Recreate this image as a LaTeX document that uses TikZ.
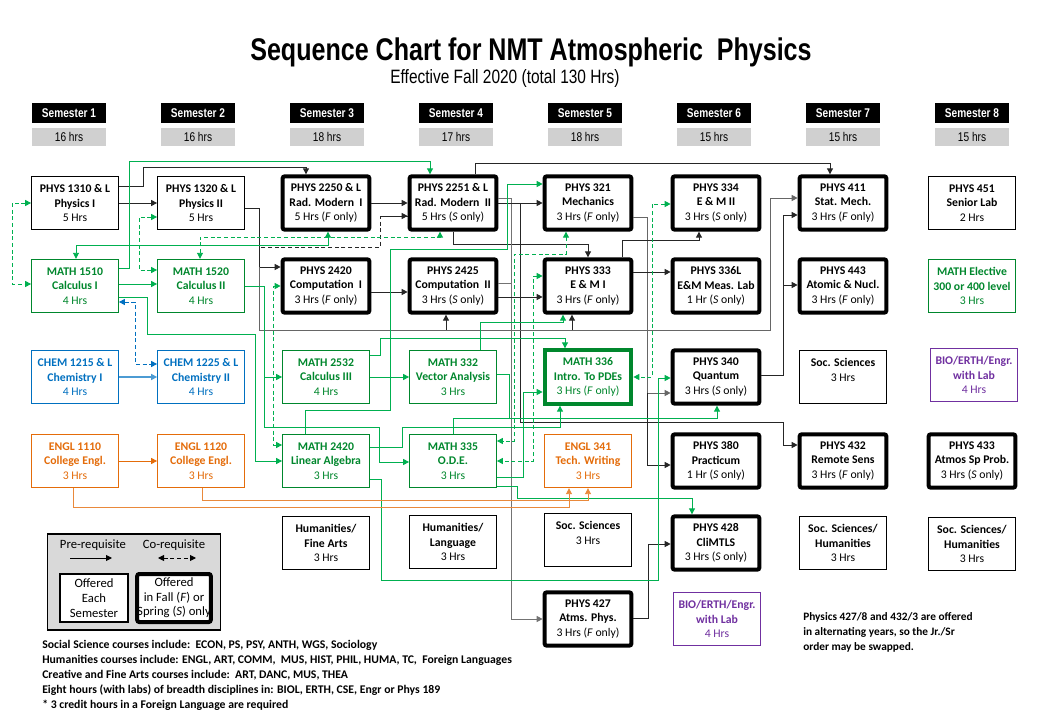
\documentclass[tikz,border=0pt]{standalone}
\usepackage{fontspec}
\setmainfont{Carlito}
\newfontfamily\narrowfont[FakeStretch=0.8]{Liberation Sans}
\usepackage{tikz}
\usetikzlibrary{arrows.meta, positioning}
\definecolor{cgreen}{RGB}{0,135,45}
\definecolor{lgreen}{RGB}{0,176,80}
\definecolor{cblue}{RGB}{0,112,192}
\definecolor{corange}{RGB}{228,108,10}
\definecolor{cpurple}{RGB}{112,48,160}
\definecolor{hdrgray}{RGB}{208,208,208}
\definecolor{leggray}{RGB}{217,217,217}
\tikzstyle{course} = [
    rectangle, draw=black, line width=0.8pt, minimum width=65pt, minimum height=40pt,
    align=center, fill=white, inner sep=1pt, font=\fontsize{8.8}{11}\selectfont
]
\tikzstyle{fs} = [course, line width=3pt, rounded corners=1.5pt]
\tikzstyle{mathc} = [course, draw=cgreen, text=cgreen]
\tikzstyle{chemc} = [course, draw=cblue, text=cblue]
\tikzstyle{englc} = [course, draw=corange, text=corange]
\tikzstyle{bioc} = [course, draw=cpurple, text=cpurple]
\tikzstyle{semhead} = [rectangle, fill=black, text=white, minimum width=56pt, minimum height=15pt,
    inner sep=0pt, font=\narrowfont\bfseries\fontsize{9.5}{10}\selectfont]
\tikzstyle{semhrs} = [rectangle, fill=hdrgray, minimum width=56pt, minimum height=13.5pt,
    inner sep=0pt, font=\narrowfont\fontsize{9.5}{10}\selectfont]
\tikzstyle{pre} = [-{Triangle[length=4.5pt,width=4.5pt]}, line width=0.7pt, draw=black!85]
\tikzstyle{gpre} = [pre, draw=lgreen]
\tikzstyle{co} = [{Triangle[length=4.5pt,width=4.5pt]}-{Triangle[length=4.5pt,width=4.5pt]},
    line width=0.7pt, dash pattern=on 3pt off 2pt, draw=black!85]
\newcommand{\crs}[3]{\textbf{#1}\\\textbf{#2}\\#3}
\newcommand{\Fonly}{(\textit{F} only)}
\newcommand{\Sonly}{(\textit{S} only)}

\begin{document}
\begin{tikzpicture}[x=0.75pt, y=-0.75pt]
    \useasboundingbox (0,0) rectangle (1040,720);

    % Title
    \node (title) at (531,52) {\narrowfont\bfseries\fontsize{23.5}{26}\selectfont Sequence Chart for NMT Atmospheric\ \ Physics};
    \node (subtitle) at (505,78) {\narrowfont\fontsize{14.5}{16}\selectfont Effective Fall 2020 (total\ 130 Hrs)};

    % Semester headers
    \node[semhead] (sem1) at (69,113) {Semester 1};
    \node[semhead] (sem2) at (198,113) {Semester 2};
    \node[semhead] (sem3) at (327,113) {Semester 3};
    \node[semhead] (sem4) at (456,113) {Semester 4};
    \node[semhead] (sem5) at (585,113) {Semester 5};
    \node[semhead] (sem6) at (714,113) {Semester 6};
    \node[semhead] (sem7) at (843,113) {Semester 7};
    \node[semhead] (sem8) at (972,113) {Semester 8};
    \node[semhrs, below=3.5pt of sem1] (hrs1) {16 hrs};
    \node[semhrs, below=3.5pt of sem2] (hrs2) {16 hrs};
    \node[semhrs, below=3.5pt of sem3] (hrs3) {18 hrs};
    \node[semhrs, below=3.5pt of sem4] (hrs4) {17 hrs};
    \node[semhrs, below=3.5pt of sem5] (hrs5) {18 hrs};
    \node[semhrs, below=3.5pt of sem6] (hrs6) {15 hrs};
    \node[semhrs, below=3.5pt of sem7] (hrs7) {15 hrs};
    \node[semhrs, below=3.5pt of sem8] (hrs8) {15 hrs};

    % Row 1
    \node[course] (phys1310) at (75,203) {\crs{PHYS 1310 \& L}{Physics I}{5 Hrs}};
    \node[course] (phys1320) at (201,203) {\crs{PHYS 1320 \& L}{Physics II}{5 Hrs}};
    \node[fs] (phys2250) at (326,203) {\crs{PHYS 2250 \& L}{Rad. Modern\ \ I}{5 Hrs \Fonly}};
    \node[fs] (phys2251) at (453,203) {\crs{PHYS 2251 \& L}{Rad. Modern\ \ II}{5 Hrs \Sonly}};
    \node[fs] (phys321) at (588,203) {\crs{PHYS 321}{Mechanics}{3 Hrs \Fonly}};
    \node[fs] (phys334) at (716,203) {\crs{PHYS 334}{E \& M II}{3 Hrs \Sonly}};
    \node[fs] (phys411) at (843,203) {\crs{PHYS 411}{Stat. Mech.}{3 Hrs \Fonly}};
    \node[course] (phys451) at (972,203) {\crs{PHYS 451}{Senior Lab}{2 Hrs}};

    % Row 2
    \node[mathc] (math1510) at (75,286) {\crs{MATH 1510}{Calculus I}{4 Hrs}};
    \node[mathc] (math1520) at (201,286) {\crs{MATH 1520}{Calculus II}{4 Hrs}};
    \node[fs] (phys2420) at (326,286) {\crs{PHYS 2420}{Computation\ \ I}{3 Hrs \Fonly}};
    \node[fs] (phys2425) at (453,286) {\crs{PHYS 2425}{Computation\ \ II}{3 Hrs \Sonly}};
    \node[fs] (phys333) at (588,286) {\crs{PHYS 333}{E \& M I}{3 Hrs \Fonly}};
    \node[fs] (phys336L) at (716,286) {\crs{PHYS 336L}{E\&M Meas. Lab}{1 Hr \Sonly}};
    \node[fs] (phys443) at (843,286) {\crs{PHYS 443}{Atomic \& Nucl.}{3 Hrs \Fonly}};
    \node[mathc] (mathel) at (972,286) {\crs{MATH Elective}{300 or 400 level}{3 Hrs}};

    % Row 3
    \node[chemc] (chem1215) at (75,377) {\crs{CHEM 1215 \& L}{Chemistry I}{4 Hrs}};
    \node[chemc] (chem1225) at (201,377) {\crs{CHEM 1225 \& L}{Chemistry II}{4 Hrs}};
    \node[mathc] (math2532) at (326,377) {\crs{MATH 2532}{Calculus III}{4 Hrs}};
    \node[mathc] (math332) at (453,377) {\crs{MATH 332}{Vector\ Analysis}{3 Hrs}};
    \node[mathc, line width=3pt] (math336) at (588,377) {\crs{MATH 336}{Intro. To PDEs}{3 Hrs \Fonly}};
    \node[fs] (phys340) at (716,377) {\crs{PHYS 340}{Quantum}{3 Hrs \Sonly}};
    \node[course] (socsci7) at (843,377) {\textbf{Soc. Sciences}\\3 Hrs\\~};
    \node[bioc] (bio8) at (974,375) {\crs{BIO/ERTH/Engr.}{with Lab}{4 Hrs}};

    % Row 4
    \node[englc] (engl1110) at (75,461) {\crs{ENGL 1110}{College Engl.}{3 Hrs}};
    \node[englc] (engl1120) at (201,461) {\crs{ENGL 1120}{College Engl.}{3 Hrs}};
    \node[mathc] (math2420) at (326,461) {\crs{MATH 2420}{Linear Algebra}{3 Hrs}};
    \node[mathc] (math335) at (453,461) {\crs{MATH 335}{O.D.E.}{3 Hrs}};
    \node[englc] (engl341) at (588,461) {\crs{ENGL 341}{Tech. Writing}{3 Hrs}};
    \node[fs] (phys380) at (716,461) {\crs{PHYS 380}{Practicum}{1 Hr \Sonly}};
    \node[fs] (phys432) at (843,461) {\crs{PHYS 432}{Remote Sens}{3 Hrs \Fonly}};
    \node[fs] (phys433) at (972,461) {\crs{PHYS 433}{Atmos Sp Prob.}{3 Hrs \Sonly}};

    % Row 5 and 6
    \node[course] (hum3) at (326,543) {\crs{Humanities/}{Fine Arts}{3 Hrs}};
    \node[course] (hum4) at (453,542) {\crs{Humanities/}{Language}{3 Hrs}};
    \node[course] (socsci5) at (588,540) {\textbf{Soc. Sciences}\\3 Hrs\\~};
    \node[fs] (phys428) at (716,543) {\crs{PHYS 428}{CliMTLS}{3 Hrs \Sonly}};
    \node[course] (sochum7) at (843,543) {\crs{Soc. Sciences/}{Humanities}{3 Hrs}};
    \node[course] (sochum8) at (972,544) {\crs{Soc. Sciences/}{Humanities}{3 Hrs}};
    \node[fs] (phys427) at (588,619) {\crs{PHYS 427}{Atms. Phys.}{3 Hrs \Fonly}};
    \node[bioc] (bio6) at (717,619) {\crs{BIO/ERTH/Engr.}{with Lab}{4 Hrs}};

    % Physics chain
    \draw[pre] (phys1310) -- (phys1320);
    \draw[pre] (phys1310.east |- 0,186) -| (143,167) -| (phys2250.north -| 306,0);
    \draw[pre] (phys2250) -- (phys2251);
    \draw[pre] (phys2251.north -| 475,0) |- (830,163) -- (phys411.north -| 830,0);
    \draw[pre] (phys2251.south -| 453,0) |- (588,244) -- (phys333.north -| 588,0);
    \draw[pre, draw=black!55] (phys2251.east |- 0,198) -| (511,619) -- (phys427.west |- 0,619);
    \draw[draw=black!55, line width=0.7pt] (phys2425.east |- 0,283) -- (511,283);
    \draw[pre] (phys2251) -- (phys321);
    \draw[pre] (520,203) |- (783,422) |- (phys432.west |- 0,445);
    \draw[pre] (phys1320.east |- 0,208) -| (259,267) -- (phys2420.west |- 0,267);
    \draw[pre, draw=black!60] (259,267) |- (770,330) |- (phys411.west |- 0,198);
    \draw[pre] (446,330) -- (phys2425.south -| 446,0);
    \draw[pre] (572,330) -- (phys333.south -| 572,0);
    \draw[co, -] (phys2251.west |- 0,216) -| (380,247) -- (259,247);
    \draw[pre] (380,216) -- (phys2251.west |- 0,216);
    \draw[pre] (phys2420.east |- 0,292) -- (phys2425.west |- 0,292);
    \draw[pre] (phys2425.east |- 0,297) -- (phys333.west |- 0,297);
    \draw[pre, draw=black!60] (phys321.east |- 0,217) -| (647,393) -- (phys340.west |- 0,393);
    \draw[pre] (647,393) |- (phys380.west |- 0,465);
    \draw[pre] (phys333.east |- 0,272) -- (phys336L.west |- 0,272);
    \draw[pre] (phys333.north -| 622,0) |- (699,240) -- (phys334.south -| 699,0);
    \draw[pre] (phys340.east |- 0,375) -| (783,215) -- (phys411.west |- 0,215);
    \draw[pre] (783,285) -- (phys443.west |- 0,285);
    \draw[pre] (phys427.east |- 0,618) -| (648,544) -- (phys428.west |- 0,544);

    % Math chain
    \draw[gpre] (math1510.east |- 0,268) -| (129,161) -| (phys2251.north -| 430,0);
    \draw[gpre, {Triangle[length=4.5pt,width=4.5pt]}-{Triangle[length=4.5pt,width=4.5pt]}]
        (math1510.north -| 76,0) |- (328,245) -- (phys2250.south -| 328,0);
    \draw[gpre] (math1510.east |- 0,284) -- (math1520.west |- 0,284);
    \draw[gpre] (math1510.east |- 0,297) -| (147,334) -| (255,461) -- (math2420.west);
    \draw[gpre] (math1520.east) -| (264,377) -- (math2532.west);
    \draw[gpre] (264,377) |- (379,427) |- (math335.west |- 0,462);
    \draw[gpre] (math2532) -- (math332);
    \draw[gpre] (math332.north -| 480,0) |- (563,322) -- (phys333.south -| 563,0);
    \draw[gpre] (math2532.east |- 0,355) -| (380,338) -| (math336.north -| 565,0);
    \draw[gpre] (math2420.north -| 305,0) |- (390,410) |- (507,249) |- (phys321.west |- 0,184);
    \draw[gpre] (math2420.east |- 0,447) -| (402,427) -| (math336.south -| 560,0);
    \draw[gpre] (math2420.east |- 0,479) -| (381,580) -| (658,378) -- (phys340.west |- 0,378);
    \draw[gpre] (math335.north -| 453,0) |- (717,418) -- (phys340.south -| 717,0);
    \draw[gpre] (math335.east |- 0,477) -| (523,392) -- (math336.west |- 0,392);
    \draw[gpre] (math335.east |- 0,486) -| (517,498) -| (phys428.north -| 692,0);
    \draw[gpre, -] (math332.east |- 0,374) -| (509,418);

    % Co-requisites
    \draw[co, draw=lgreen] (phys1310.west) -- ++(-19,0) |- (math1510.west |- 0,284);
    \draw[co, draw=lgreen] (phys1320.west |- 0,217) -- ++(-18,0) |- (math1520.west |- 0,270);
    \draw[co, draw=lgreen] (math1520.north -| 200,0) |- (440,237) -- (phys2251.south -| 440,0);
    \draw[co, draw=lgreen] (phys2420.west) -| (273,445) -- (math2420.west |- 0,445);
    \draw[co, draw=lgreen] (phys334.west |- 0,204) -| (652,377) -- (math336.east |- 0,377);
    \draw[co, draw=lgreen] (phys333.west |- 0,276) -| (533,461) -- (math335.east |- 0,461);
    \draw[co, draw=lgreen] (phys321.south -| 566,0) |- (514,254) |- (math335.east |- 0,441);
    \draw[co, draw=cblue] (math1510.east |- 0,302) -| (135,364) -- (chem1225.west |- 0,364);

    % Chemistry and English
    \draw[pre, draw=cblue!70, line width=1.3pt] (chem1215) -- (chem1225);
    \draw[pre, draw=corange] (engl1110) -- (engl1120);
    \draw[pre, draw=corange!80] (engl1110.south -| 73,0) |- (569,507) -- (engl341.south -| 569,0);
    \draw[pre, draw=corange!80] (engl1120.south -| 202,0) |- (588,500) -- (engl341.south -| 588,0);

    % Legend
    \node[rectangle, draw=black, fill=leggray, minimum width=130pt, minimum height=72pt,
          line width=0.8pt] (legend) at (134,582) {};
    \node[font=\fontsize{9.5}{11}\selectfont] (legpre) at (93,545) {Pre-requisite};
    \node[font=\fontsize{9.5}{11}\selectfont] (legco) at (174,545) {Co-requisite};
    \coordinate (pa) at (70,558);
    \coordinate (pb) at (112,558);
    \coordinate (ca) at (158,558);
    \coordinate (cb) at (196,558);
    \draw[pre, draw=black] (pa) -- (pb);
    \draw[co, draw=black] (ca) -- (cb);
    \node[course, minimum width=51pt, minimum height=36pt, font=\fontsize{9.5}{11}\selectfont]
        (legeach) at (94,598) {Offered\\Each\\Semester};
    \node[fs, minimum width=55pt, minimum height=36pt, inner sep=0pt, font=\fontsize{9.5}{11}\selectfont]
        (legfs) at (174,598) {Offered\\in Fall (\textit{F}) or\\Spring (\textit{S}) only};

    % Notes
    \node[anchor=north west, align=left, inner sep=0pt,
          font=\bfseries\fontsize{8.5}{11.25}\selectfont] (alt) at (803,612)
        {Physics 427/8 and 432/3 are offered\\in alternating\ years, so the Jr./Sr\\order may be swapped.};
    \node[anchor=north west, align=left, inner sep=0pt,
          font=\bfseries\fontsize{8.8}{11.25}\selectfont] (notes) at (42,640)
        {Social Science courses include:\ \ ECON, PS, PSY, ANTH, WGS, Sociology\\
         Humanities courses include: ENGL, ART, COMM,\ \ MUS, HIST, PHIL, HUMA, TC,\ \ Foreign Languages\\
         Creative and\ Fine Arts courses include:\ \ ART, DANC, MUS, THEA\\
         Eight hours (with labs) of breadth disciplines in: BIOL, ERTH, CSE, Engr or Phys 189\\
         * 3 credit hours in a Foreign Language are required};
\end{tikzpicture}
\end{document}
